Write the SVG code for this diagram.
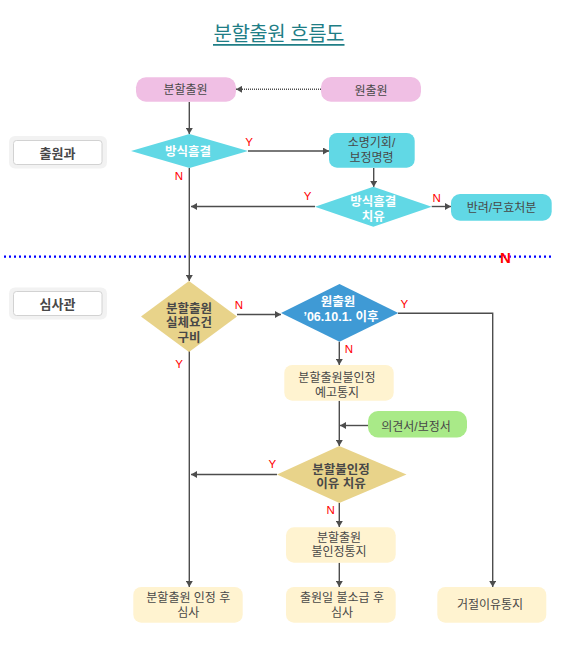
<svg xmlns="http://www.w3.org/2000/svg" width="565" height="646" viewBox="0 0 565 646">
<style>
text{font-family:"Liberation Sans","Noto Sans CJK KR",sans-serif;text-anchor:middle}
.t{font-size:12px;fill:#484848}
.b{font-size:12.5px;font-weight:bold;fill:#484848}
.w{font-size:12.5px;font-weight:bold;fill:#ffffff}
.yn{font-family:"Liberation Sans",Arial,sans-serif;font-size:11.5px;fill:#ff0000}
.c{fill:none;stroke:#4d4d4d;stroke-width:1.4}
.pink{fill:#f0bfe4}
.cyan{fill:#61d8e5}
.ly{fill:#fff3d0}
.yd{fill:#e8d38a}
.bd{fill:#3f9ad5}
.gr{fill:#a9ea88}
.lab-o{fill:#f2f2f2}
.lab-i{fill:#ffffff;stroke:#d2d2d2;stroke-width:1}
</style>
<defs>
<marker id="ah" markerUnits="userSpaceOnUse" markerWidth="7" markerHeight="7" refX="6" refY="3.5" orient="auto">
<path d="M0,0 L6,3.5 L0,7 z" fill="#4d4d4d"/>
</marker>
</defs>
<rect width="565" height="646" fill="#ffffff"/>

<g id="title">
<text x="279" y="41" style="font-size:20px;fill:#1f7e86" textLength="131" lengthAdjust="spacing">분할출원 흐름도</text>
<line x1="213" y1="44.8" x2="344.5" y2="44.8" stroke="#1f7e86" stroke-width="1.7"/>
</g>

<g id="lane-divider">
<line x1="4" y1="256.7" x2="552" y2="256.7" stroke="#0000ff" stroke-width="2.2" stroke-dasharray="2,3"/>
<text x="505.5" y="262.5" style="font-family:'Liberation Sans',Arial,sans-serif;font-size:15px;font-weight:bold;fill:#ff0000">N</text>
</g>

<g id="lane-chulwongwa">
<rect class="lab-o" x="9" y="136" width="98" height="32.5" rx="6"/>
<rect class="lab-i" x="13.5" y="140.5" width="88.5" height="24" rx="3"/>
<text class="b" x="57.5" y="157.5" style="font-size:13px">출원과</text>
</g>
<g id="lane-simsagwan">
<rect class="lab-o" x="9" y="287.5" width="98" height="32" rx="6"/>
<rect class="lab-i" x="13.5" y="291.5" width="88.5" height="24" rx="3"/>
<text class="b" x="57.5" y="309" style="font-size:13px">심사관</text>
</g>

<g id="connectors">
<line x1="321" y1="89.3" x2="236" y2="89.3" stroke="#4d4d4d" stroke-width="1.4" stroke-dasharray="1,1" marker-end="url(#ah)"/>
<line class="c" x1="189.3" y1="102" x2="189.3" y2="134" marker-end="url(#ah)"/>
<line class="c" x1="248" y1="151" x2="329" y2="151" marker-end="url(#ah)"/>
<line class="c" x1="373.7" y1="168" x2="373.7" y2="187" marker-end="url(#ah)"/>
<line class="c" x1="315" y1="206.5" x2="191" y2="206.5" marker-end="url(#ah)"/>
<line class="c" x1="431.7" y1="206.5" x2="451" y2="206.5" marker-end="url(#ah)"/>
<line class="c" x1="189.3" y1="168" x2="189.3" y2="281" marker-end="url(#ah)"/>
<line class="c" x1="237" y1="314.5" x2="281" y2="314.5" marker-end="url(#ah)"/>
<polyline class="c" points="398,313.3 492.7,313.3 492.7,587" marker-end="url(#ah)"/>
<line class="c" x1="339.3" y1="341.7" x2="339.3" y2="365" marker-end="url(#ah)"/>
<line class="c" x1="339.3" y1="400.7" x2="339.3" y2="446" marker-end="url(#ah)"/>
<line class="c" x1="368" y1="425.5" x2="340" y2="425.5" marker-end="url(#ah)"/>
<line class="c" x1="277" y1="474.5" x2="191" y2="474.5" marker-end="url(#ah)"/>
<line class="c" x1="339.3" y1="503" x2="339.3" y2="527" marker-end="url(#ah)"/>
<line class="c" x1="339.3" y1="562.7" x2="339.3" y2="587" marker-end="url(#ah)"/>
<line class="c" x1="189.3" y1="351" x2="189.3" y2="587" marker-end="url(#ah)"/>
<text class="yn" x="249" y="146">Y</text>
<text class="yn" x="179" y="180">N</text>
<text class="yn" x="307.7" y="200">Y</text>
<text class="yn" x="436.7" y="202">N</text>
<text class="yn" x="239" y="309">N</text>
<text class="yn" x="404.3" y="307.5">Y</text>
<text class="yn" x="349" y="353">N</text>
<text class="yn" x="179" y="368">Y</text>
<text class="yn" x="272.3" y="467.5">Y</text>
<text class="yn" x="330.7" y="514">N</text>
</g>

<g id="n-bunhal">
<rect class="pink" x="136" y="77.3" width="100" height="24.5" rx="10"/>
<text class="t" x="185.5" y="94">분할출원</text>
</g>
<g id="n-wonchulwon">
<rect class="pink" x="321" y="77" width="100" height="24.7" rx="10"/>
<text class="t" x="371" y="94.5">원출원</text>
</g>
<g id="d-bangsik">
<polygon class="cyan" points="189.5,134 248,151 189.5,168 131,151"/>
<text class="w" x="188" y="155.5">방식흠결</text>
</g>
<g id="n-somyeong">
<rect class="cyan" x="329" y="133" width="85.7" height="34.7" rx="8"/>
<text class="t" x="371.5" y="147">소명기회/</text>
<text class="t" x="371.5" y="162">보정명령</text>
</g>
<g id="d-bangsik-chiyu">
<polygon class="cyan" points="373.3,186.7 431.7,206.7 373.3,226.7 315,206.7"/>
<text class="w" x="373.3" y="206">방식흠결</text>
<text class="w" x="373.3" y="221">치유</text>
</g>
<g id="n-banryeo">
<rect class="cyan" x="451" y="194" width="100.7" height="26.7" rx="9"/>
<text class="t" x="501.5" y="212">반려/무효처분</text>
</g>
<g id="d-silche">
<polygon class="yd" points="189,281 237,316.5 189,352 141,316.5"/>
<text class="b" x="189" y="312.5">분할출원</text>
<text class="b" x="189" y="327">실체요건</text>
<text class="b" x="189" y="341.5">구비</text>
</g>
<g id="d-wonchulwon-date">
<polygon class="bd" points="339.5,284 398.3,313 339.5,341.7 281,313"/>
<text class="w" x="338" y="305.5">원출원</text>
<text class="w" x="341" y="320.5">’06.10.1. 이후</text>
</g>
<g id="n-yego">
<rect class="ly" x="284.3" y="365" width="109.4" height="35.7" rx="8"/>
<text class="t" x="337" y="381.5">분할출원불인정</text>
<text class="t" x="337" y="396.5">예고통지</text>
</g>
<g id="n-uigyeon">
<rect class="gr" x="368" y="411" width="99" height="26.5" rx="10"/>
<text class="t" x="416" y="430.5">의견서/보정서</text>
</g>
<g id="d-bulinjeong-chiyu">
<polygon class="yd" points="339.3,446 406.5,474.5 339.3,503 277,474.5"/>
<text class="b" x="341" y="473.7">분할불인정</text>
<text class="b" x="341" y="488.3">이유 치유</text>
</g>
<g id="n-bulinjeong">
<rect class="ly" x="286" y="527.3" width="109.7" height="35.4" rx="8"/>
<text class="t" x="339" y="542">분할출원</text>
<text class="t" x="339" y="556">불인정통지</text>
</g>
<g id="n-injeong-hu">
<rect class="ly" x="133.3" y="587" width="109.4" height="35.7" rx="8"/>
<text class="t" x="188.3" y="602">분할출원 인정 후</text>
<text class="t" x="188.3" y="617">심사</text>
</g>
<g id="n-bulsogeup">
<rect class="ly" x="286" y="587" width="109.7" height="35.7" rx="8"/>
<text class="t" x="342" y="602">출원일 불소급 후</text>
<text class="t" x="342" y="617">심사</text>
</g>
<g id="n-geojeol">
<rect class="ly" x="437.3" y="587" width="109" height="35.7" rx="8"/>
<text class="t" x="490" y="608.5">거절이유통지</text>
</g>
</svg>
